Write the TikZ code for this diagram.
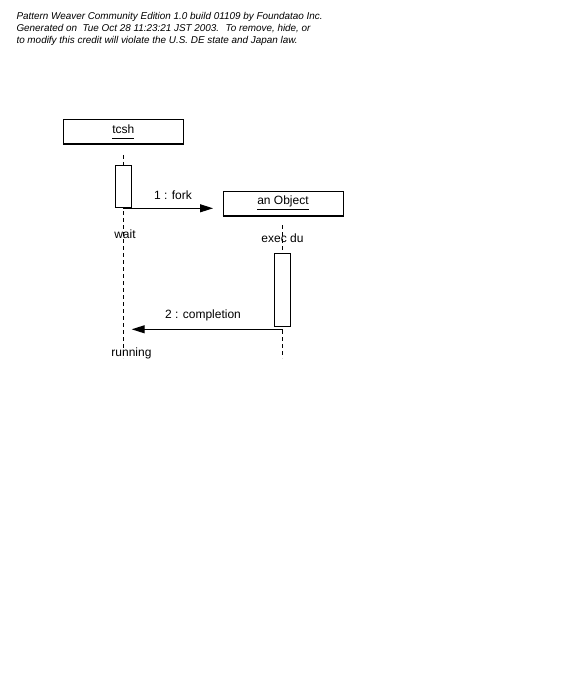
\documentclass[tikz,border=0pt]{standalone}
\usepackage{fontspec}
\setmainfont{Liberation Sans}
\usetikzlibrary{positioning,arrows.meta}
\newcommand{\objname}[1]{\underline{\raisebox{3pt}{#1}}}

\begin{document}
\begin{tikzpicture}[x=1pt, y=-1pt, line width=1pt,
  obj/.style={draw, fill=white, minimum width=120pt, minimum height=24pt,
              inner sep=0pt, font=\fontsize{12}{14}\selectfont},
  act/.style={draw, fill=white, minimum width=16pt, inner sep=0pt},
  life/.style={dash pattern=on 4pt off 3pt},
  msg/.style={-{Triangle[length=13pt, width=8pt]}},
  lab/.style={font=\fontsize{12}{14}\selectfont, inner sep=0pt},
  hdr/.style={font=\fontsize{9.9}{12}\selectfont\itshape, anchor=west, inner sep=0pt},
]
\useasboundingbox (0,0) rectangle (580,687);
% credit lines at the top
\node[hdr] (c1) at (16,17) {Pattern Weaver Community Edition 1.0 build 01109 by Foundatao Inc.};
\node[hdr] (c2) at (16,29) {Generated on \ Tue Oct 28 11:23:21 JST 2003. \ To remove, hide, or};
\node[hdr] (c3) at (16,41) {to modify this credit will violate the U.S. DE state and Japan law.};

% lifelines
\coordinate (tTop) at (123.3,155);
\coordinate (tBot) at (123.3,358);
\coordinate (oTop) at (282.5,225);
\coordinate (oBot) at (282.5,358);
\draw[life] (tTop) -- (tBot);
\draw[life] (oTop) -- (oBot);

% objects
\node[obj] (tcsh) at (123.3,132) {\objname{tcsh}};
\draw[line width=2pt] (tcsh.south west) -- (tcsh.south east);
\node[obj] (aobj) at (283,203) {\objname{an Object}};
\draw[line width=2pt] (aobj.south west) -- (aobj.south east);

% activations
\node[act, minimum height=41pt] (tact) at (123.3,186.5) {};
\node[act, minimum height=73pt] (oact) at (282.5,289.5) {};

% messages
\coordinate (forkBeg) at (123.3,208.3);
\coordinate (forkEnd) at (213,208.3);
\draw[msg] (forkBeg) -- (forkEnd);
\node[lab] (fork) at (173,195) {1 : fork};
\coordinate (compBeg) at (282.5,329.3);
\coordinate (compEnd) at (131.7,329.3);
\draw[msg] (compBeg) -- (compEnd);
\node[lab] (comp) at (203,315.5) {2 : completion};

% states
\node[lab] (wait) at (125,234) {wait};
\node[lab] (exec) at (282.5,238) {exec du};
\node[lab] (run) at (131.5,353) {running};
\end{tikzpicture}
\end{document}
